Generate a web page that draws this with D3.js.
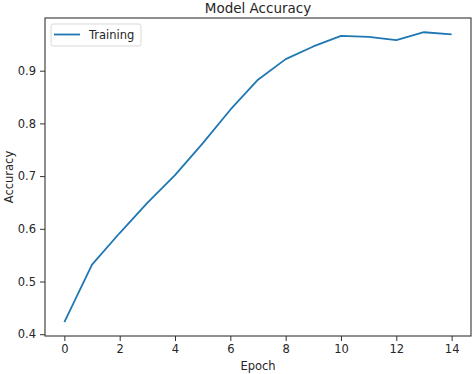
<!DOCTYPE html>
<html><head><meta charset="utf-8">
<script src="https://cdn.jsdelivr.net/npm/d3@7"></script>
<style>body{margin:0;background:#fff}svg{display:block}text{font-family:"DejaVu Sans",sans-serif;fill:#262626}</style>
</head><body><svg id="c" width="474" height="374"></svg>
<script>
const epochs = [0,1,2,3,4,5,6,7,8,9,10,11,12,13,14];
const accuracy = [0.423,0.532,0.592,0.649,0.702,0.762,0.826,0.883,0.922,0.946,0.966,0.964,0.958,0.973,0.969];
const xTicks = [0,2,4,6,8,10,12,14];
const yTicks = [0.4,0.5,0.6,0.7,0.8,0.9];
const title = "Model Accuracy", xLabel = "Epoch", yLabel = "Accuracy", seriesName = "Training";

const svg = d3.select("#c");
const m = {l:45, r:471, t:18, b:336};
const x = d3.scaleLinear().domain([-0.7,14.7]).range([m.l,m.r]);
const y = d3.scaleLinear().domain([0.3966,1.0]).range([m.b,m.t]);

const xa = svg.append("g").attr("transform",`translate(0,${m.b})`)
  .call(d3.axisBottom(x).tickValues(xTicks).tickSize(5).tickPadding(4).tickFormat(d3.format("d")));
const ya = svg.append("g").attr("transform",`translate(${m.l},0)`)
  .call(d3.axisLeft(y).tickValues(yTicks).tickSize(5).tickPadding(4).tickFormat(d3.format(".1f")));
[xa,ya].forEach(a=>{a.select(".domain").remove();a.selectAll("line").attr("stroke","#333");a.selectAll("text").attr("font-size",11.5).attr("fill","#262626").attr("font-family","DejaVu Sans");});

svg.append("rect").attr("x",m.l).attr("y",m.t).attr("width",m.r-m.l).attr("height",m.b-m.t)
  .attr("fill","none").attr("stroke","#333").attr("stroke-width",1.1);

svg.append("path").datum(epochs.map((e,i)=>[e,accuracy[i]]))
  .attr("d",d3.line().x(d=>x(d[0])).y(d=>y(d[1])))
  .attr("fill","none").attr("stroke","#1f77b4").attr("stroke-width",1.8).attr("stroke-linejoin","round");

svg.append("text").attr("x",(m.l+m.r)/2).attr("y",13).attr("text-anchor","middle").attr("font-size",13.5).text(title);
svg.append("text").attr("x",(m.l+m.r)/2).attr("y",370).attr("text-anchor","middle").attr("font-size",11.5).text(xLabel);
svg.append("text").attr("transform",`translate(13,${(m.t+m.b)/2}) rotate(-90)`).attr("text-anchor","middle").attr("font-size",11.5).text(yLabel);

const lg = svg.append("g");
lg.append("rect").attr("x",51).attr("y",24).attr("width",90).attr("height",22).attr("rx",2.5)
  .attr("fill","#fff").attr("stroke","#d9d9d9").attr("stroke-width",1);
lg.append("line").attr("x1",54).attr("x2",80).attr("y1",34.5).attr("y2",34.5).attr("stroke","#1f77b4").attr("stroke-width",1.8);
lg.append("text").attr("x",89).attr("y",39).attr("font-size",11.5).text(seriesName);
</script></body></html>
